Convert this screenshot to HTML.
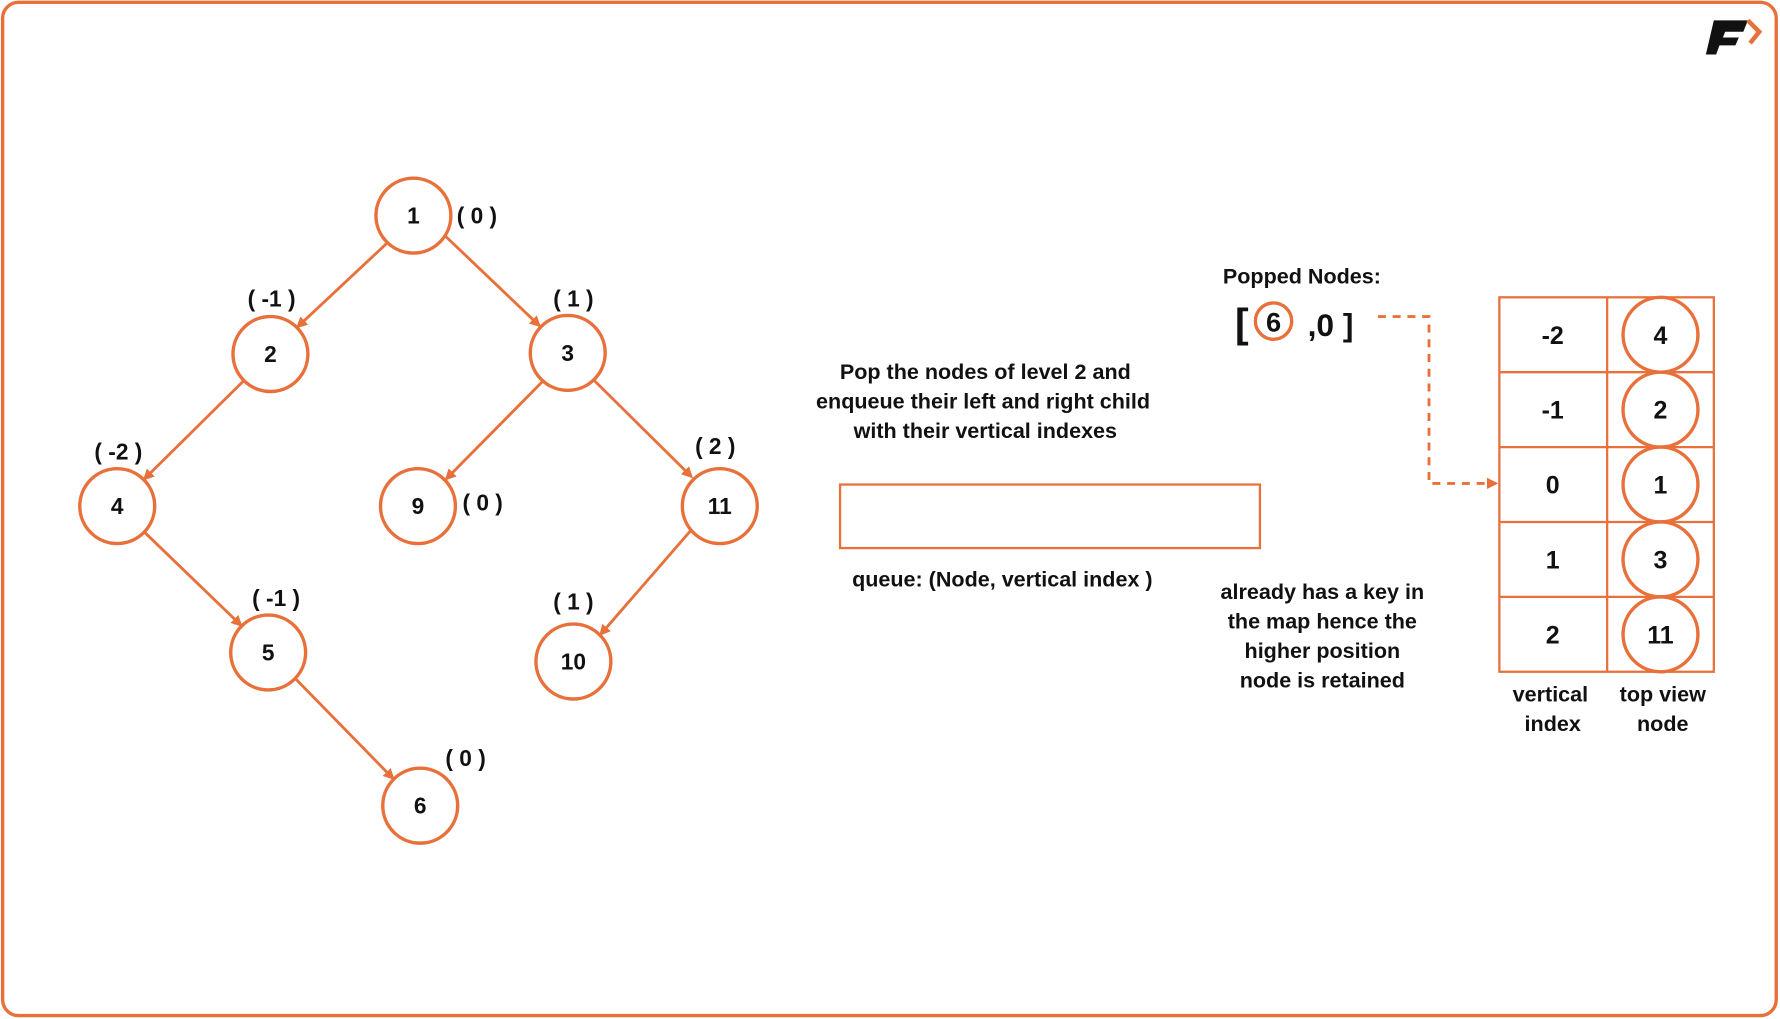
<!DOCTYPE html>
<html><head><meta charset="utf-8"><style>
html,body{margin:0;padding:0;background:#fff;}
svg{display:block;}
text{font-family:"Liberation Sans","DejaVu Sans",sans-serif;font-weight:bold;fill:#111;}
</style></head><body>
<svg width="1780" height="1019" viewBox="0 0 1568 898" xmlns="http://www.w3.org/2000/svg">
<defs>
<marker id="a" markerWidth="10" markerHeight="10" refX="8" refY="5" orient="auto" markerUnits="userSpaceOnUse">
<path d="M0,0 L10,5 L0,10 z" fill="#E8703A"/></marker>
</defs>
<rect x="2" y="2" width="1563" height="893" rx="14" fill="#fff" stroke="#E8703A" stroke-width="3"/>
<!-- logo -->
<path d="M1510,18 L1540,18 L1536,28 L1520,28 L1518,33 L1532,33 L1529,40 L1515,40 L1512,48 L1503,48 Z" fill="#111"/>
<path d="M1540,18 L1550,28 L1542,38" fill="none" stroke="#E8703A" stroke-width="4"/>
<g stroke="#E8703A" stroke-width="2.5" fill="none">
<line x1="341" y1="214" x2="262" y2="288" marker-end="url(#a)"/>
<line x1="390" y1="206" x2="475" y2="287" marker-end="url(#a)"/>
<line x1="214" y1="336" x2="127" y2="422" marker-end="url(#a)"/>
<line x1="478" y1="336" x2="393" y2="422" marker-end="url(#a)"/>
<line x1="523" y1="335" x2="609" y2="420" marker-end="url(#a)"/>
<line x1="127" y1="469" x2="212" y2="551" marker-end="url(#a)"/>
<line x1="608" y1="468" x2="529" y2="559" marker-end="url(#a)"/>
<line x1="260" y1="598" x2="346" y2="686" marker-end="url(#a)"/>
</g>
<g stroke="#E8703A" stroke-width="3" fill="#fff">
<circle cx="364" cy="190" r="33"/><circle cx="238" cy="312" r="33"/><circle cx="500" cy="311" r="33"/>
<circle cx="103" cy="446" r="33"/><circle cx="368" cy="446" r="33"/><circle cx="634" cy="446" r="33"/>
<circle cx="236" cy="575" r="33"/><circle cx="505" cy="583" r="33"/><circle cx="370" cy="710" r="33"/>
</g>
<g font-size="20" text-anchor="middle">
<text x="364" y="197">1</text><text x="238" y="319">2</text><text x="500" y="318">3</text>
<text x="103" y="453">4</text><text x="368" y="453">9</text><text x="634" y="453">11</text>
<text x="236" y="582">5</text><text x="505" y="590">10</text><text x="370" y="717">6</text>
<text x="420" y="197">( 0 )</text><text x="239" y="270">( -1 )</text><text x="505" y="270">( 1 )</text>
<text x="104" y="405">( -2 )</text><text x="425" y="450">( 0 )</text><text x="630" y="400">( 2 )</text>
<text x="243" y="534">( -1 )</text><text x="505" y="537">( 1 )</text><text x="410" y="675">( 0 )</text>
</g>
<g font-size="19" text-anchor="middle">
<text x="868" y="334">Pop the nodes of level 2 and</text>
<text x="866" y="360">enqueue their left and right child</text>
<text x="868" y="386">with their vertical indexes</text>
<text x="883" y="517">queue: (Node, vertical index )</text>
<text x="1165" y="528">already has a key in</text>
<text x="1165" y="554">the map hence the</text>
<text x="1165" y="580">higher position</text>
<text x="1165" y="606">node is retained</text>
<text x="1147" y="250">Popped Nodes:</text>
<text x="1366" y="618">vertical</text><text x="1368" y="644">index</text>
<text x="1465" y="618">top view</text><text x="1465" y="644">node</text>
</g>
<rect x="740" y="427" width="370" height="56" fill="none" stroke="#E8703A" stroke-width="2"/>
<text x="1088" y="297" font-size="36">[</text>
<circle cx="1122" cy="283" r="16" fill="none" stroke="#E8703A" stroke-width="3"/>
<text x="1122" y="292" font-size="24" text-anchor="middle">6</text>
<text x="1152" y="296" font-size="28">,0 ]</text>
<path d="M1214,279 L1259,279 L1259,426 L1318,426" fill="none" stroke="#E8703A" stroke-width="2.5" stroke-dasharray="7,6" marker-end="url(#a)"/>
<g stroke="#E8703A" stroke-width="2" fill="none">
<rect x="1321" y="262" width="189" height="330"/>
<line x1="1416" y1="262" x2="1416" y2="592"/>
<line x1="1321" y1="328" x2="1510" y2="328"/><line x1="1321" y1="394" x2="1510" y2="394"/>
<line x1="1321" y1="460" x2="1510" y2="460"/><line x1="1321" y1="526" x2="1510" y2="526"/>
</g>
<g stroke="#E8703A" stroke-width="3" fill="#fff">
<circle cx="1463" cy="295" r="33"/><circle cx="1463" cy="361" r="33"/><circle cx="1463" cy="427" r="33"/>
<circle cx="1463" cy="493" r="33"/><circle cx="1463" cy="559" r="33"/>
</g>
<g font-size="22" text-anchor="middle">
<text x="1368" y="303">-2</text><text x="1368" y="369">-1</text><text x="1368" y="435">0</text>
<text x="1368" y="501">1</text><text x="1368" y="567">2</text>
<text x="1463" y="303">4</text><text x="1463" y="369">2</text><text x="1463" y="435">1</text>
<text x="1463" y="501">3</text><text x="1463" y="567">11</text>
</g>
</svg>
</body></html>
